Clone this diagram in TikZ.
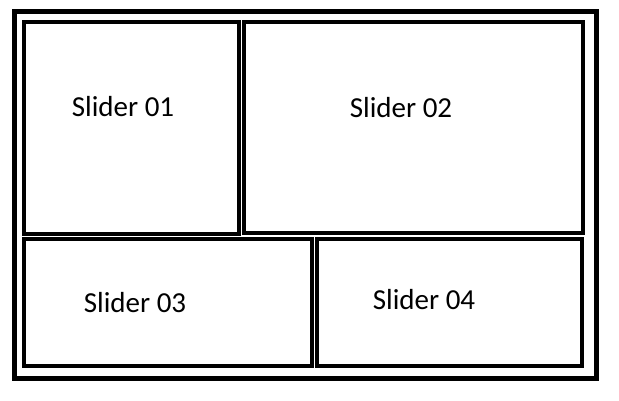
\documentclass[tikz,border=0pt]{standalone}
\usepackage{fontspec}
\setmainfont{Carlito}
\begin{document}
\begin{tikzpicture}[x=1pt, y=-1pt,
    panel/.style={draw, line width=4pt},
    label/.style={font=\fontsize{29}{32}\selectfont}]
    \useasboundingbox (0,0) rectangle (619,400);
    % Outer frame
    \draw[line width=5pt] (14,11) rectangle (596,378);
    % Panels
    \draw[panel] (24,22) rectangle (239,234);
    \draw[panel] (244,22) rectangle (583,233);
    \draw[panel] (24,239) rectangle (312,366);
    \draw[panel] (317,239) rectangle (582,366);
    % Labels
    \node[label] (s1) at (123,107) {Slider 01};
    \node[label] (s2) at (401,108) {Slider 02};
    \node[label] (s3) at (135,303) {Slider 03};
    \node[label] (s4) at (424,300) {Slider 04};
\end{tikzpicture}
\end{document}
